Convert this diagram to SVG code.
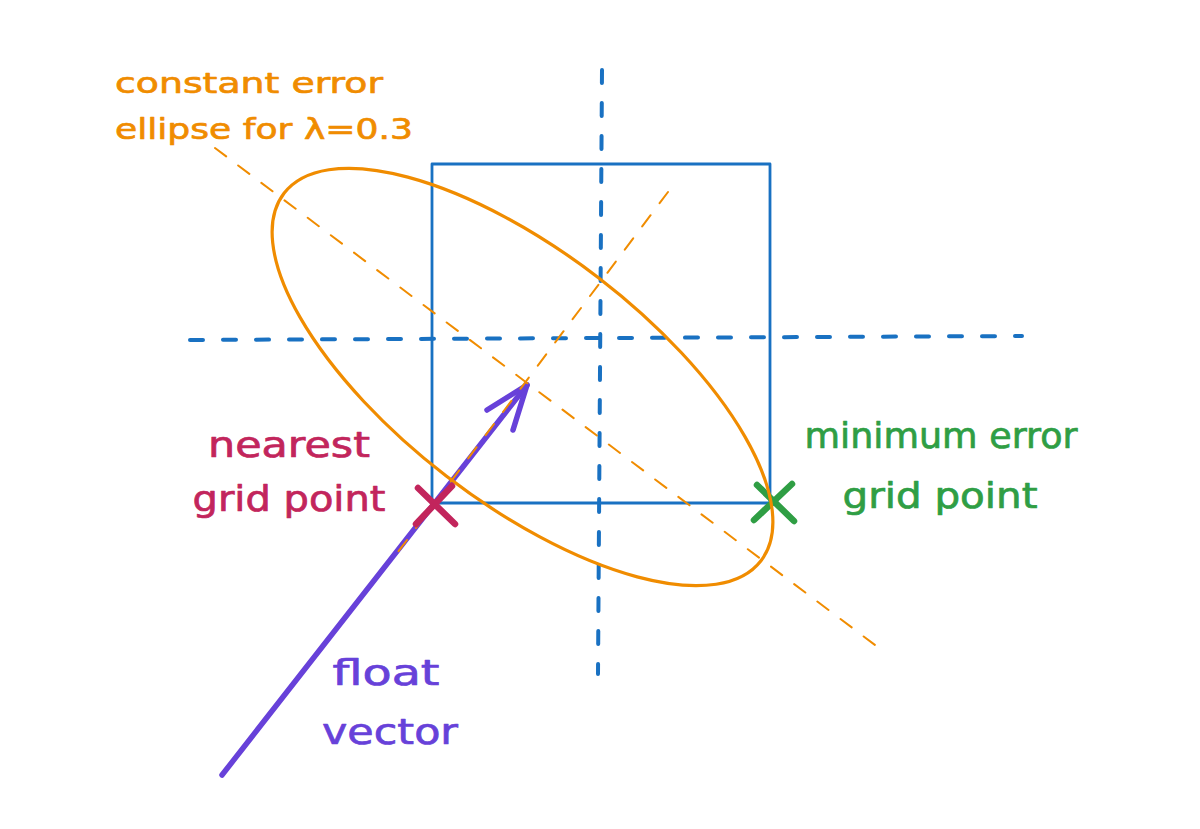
<svg xmlns="http://www.w3.org/2000/svg" width="1200" height="829" viewBox="0 0 1200 829">
<style>
.bg{fill:#ffffff}
.grid{fill:none;stroke:#1971c2;stroke-width:4;stroke-linecap:round;stroke-dasharray:13 20}
.box{fill:none;stroke:#1971c2;stroke-width:2.8;stroke-linejoin:round}
.ell{fill:none;stroke:#f08c00;stroke-width:3.2}
.axis{fill:none;stroke:#f08c00;stroke-width:2;stroke-linecap:round;stroke-dasharray:14 15}
.vec{fill:none;stroke:#6741d9;stroke-width:5.5;stroke-linecap:round;stroke-linejoin:round}
.xr{fill:none;stroke:#c2255c;stroke-width:6.5;stroke-linecap:round}
.xg{fill:none;stroke:#2f9e44;stroke-width:6.5;stroke-linecap:round}
text{font-family:"DejaVu Sans","Liberation Sans",sans-serif;stroke-width:0.7;stroke-linejoin:round}
.t-or{fill:#f08c00;stroke:#f08c00;font-size:29px}
.t-big{font-size:35px;text-anchor:middle}
.t-red{fill:#c2255c;stroke:#c2255c}
.t-grn{fill:#2f9e44;stroke:#2f9e44}
.t-pur{fill:#6741d9;stroke:#6741d9}
</style>
<rect class="bg" x="0" y="0" width="1200" height="829"/>
<g id="grid-lines">
<line class="grid" x1="190" y1="340" x2="1022" y2="336"/>
<line class="grid" x1="602" y1="70" x2="598" y2="674"/>
</g>
<g id="grid-cell">
<rect class="box" x="432" y="164" width="338" height="339"/>
</g>
<g id="connectors">
<g id="float-vector-arrow">
<line class="vec" x1="222" y1="775" x2="527" y2="385"/>
<polyline class="vec" points="487,410 527,385 513,430"/>
</g>
<line class="axis" x1="215" y1="148" x2="883" y2="651"/>
<line class="axis" x1="668" y1="192" x2="398" y2="552"/>
</g>
<g id="minimum-error-point">
<line class="xg" x1="757" y1="485" x2="794" y2="521"/>
<line class="xg" x1="792" y1="484" x2="754" y2="520"/>
</g>
<g id="error-ellipse">
<ellipse class="ell" cx="522.5" cy="377" rx="301" ry="125" transform="rotate(37.6 522.5 377)"/>
</g>
<g id="nearest-point">
<line class="xr" x1="418" y1="488" x2="455" y2="524"/>
<line class="xr" x1="452" y1="486" x2="416" y2="524"/>
</g>
<g id="label-ellipse">
<text class="t-or" x="115" y="93" textLength="268" lengthAdjust="spacingAndGlyphs">constant error</text>
<text class="t-or" x="115" y="139" textLength="298" lengthAdjust="spacingAndGlyphs">ellipse for λ=0.3</text>
</g>
<g id="label-nearest">
<text class="t-big t-red" x="289" y="457" textLength="162" lengthAdjust="spacingAndGlyphs">nearest</text>
<text class="t-big t-red" x="289" y="511" textLength="193" lengthAdjust="spacingAndGlyphs">grid point</text>
</g>
<g id="label-minimum">
<text class="t-big t-grn" x="941" y="448" textLength="273" lengthAdjust="spacingAndGlyphs">minimum error</text>
<text class="t-big t-grn" x="940" y="508" textLength="195" lengthAdjust="spacingAndGlyphs">grid point</text>
</g>
<g id="label-float">
<text class="t-big t-pur" x="386" y="685" textLength="107" lengthAdjust="spacingAndGlyphs">float</text>
<text class="t-big t-pur" x="390" y="744" textLength="136" lengthAdjust="spacingAndGlyphs">vector</text>
</g>
</svg>
